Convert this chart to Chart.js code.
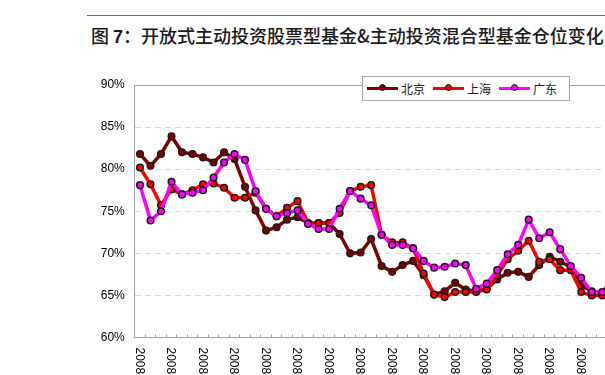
<!DOCTYPE html>
<html lang="zh-CN">
<head>
  <meta charset="UTF-8">
  <title>图7 仓位变化</title>
  <script src="https://cdn.jsdelivr.net/npm/chart.js"></script>
  <style>
    body { margin: 0; width: 605px; height: 375px; overflow: hidden; background: #fff; position: relative; }
    #topRule { position: absolute; left: 87px; top: 15px; width: 560px; height: 0; border-top: 1.5px solid #e5322d; }
    #title { position: absolute; left: 91px; top: 23px; white-space: nowrap; font: 500 18px "Noto Sans CJK SC", sans-serif; line-height: 24px; color: #1a1a1a; }
    #title b { font-family: "Liberation Sans", Arial, sans-serif; font-weight: bold; }
    #wrap { position: absolute; left: 0; top: 0; }
    #legend { position: absolute; left: 362px; top: 76px; width: 202px; height: 23px; border: 1px solid #a6a6a6; background: #fff;
              display: flex; align-items: center; padding-left: 4px; box-sizing: content-box; font: 12px "Noto Sans CJK SC", sans-serif; color: #222; }
    .item { display: flex; align-items: center; margin-right: 8px; }
    .swatch { position: relative; width: 31px; height: 3px; margin-right: 3px; }
    .swatch i { position: absolute; left: 12px; top: -3px; width: 5px; height: 5px; border-radius: 50%; border: 1.5px solid #1a1a1a; }
  </style>
</head>
<body>
  <div id="topRule"></div>
  <div id="title">图 <b>7</b>：开放式主动投资股票型基金&amp;主动投资混合型基金仓位变化</div>
  <div id="wrap"><canvas id="myChart" width="640" height="400"></canvas></div>
  <div id="legend"></div>

  <script>
    // 周度日期（图中只看得到年份）
    const categories = [
      '2008','2008','2008','2008','2008','2008','2008','2008','2008','2008',
      '2008','2008','2008','2008','2008','2008','2008','2008','2008','2008',
      '2008','2008','2008','2008','2008','2008','2008','2008','2008','2008',
      '2008','2008','2008','2008','2008','2008','2008','2008','2008','2008',
      '2008','2008','2008','2008','2008','2008'
    ];
    const beijing = [
      81.8, 80.4, 81.8, 83.9, 82.0, 81.8, 81.4, 80.8, 82.0, 81.2,
      77.9, 75.1, 72.7, 73.1, 74.0, 74.3, 73.6, 73.6, 73.6, 72.3,
      70.0, 70.1, 71.7, 68.5, 67.8, 68.6, 69.1, 67.4, 65.1, 65.5,
      66.5, 65.7, 65.5, 65.8, 66.9, 67.7, 67.8, 67.2, 68.6, 69.6,
      69.0, 68.4, 66.2, 65.5, 65.3, 67.0
    ];
    const shanghai = [
      80.2, 78.2, 75.7, 77.6, 77.0, 77.5, 78.2, 78.3, 77.8, 76.6,
      76.6, 77.2, 75.3, 74.4, 75.4, 76.2, 73.6, 73.6, 73.6, 74.8,
      77.4, 77.9, 78.1, 72.2, 71.3, 71.3, 70.6, 67.6, 65.1, 64.8,
      65.4, 65.4, 65.4, 65.7, 67.4, 69.3, 70.3, 71.5, 69.0, 69.3,
      68.0, 68.0, 65.4, 65.0, 65.0, 66.5
    ];
    const guangdong = [
      78.1, 73.9, 75.0, 78.5, 77.0, 77.2, 77.5, 79.0, 80.8, 81.8,
      81.1, 77.4, 75.3, 74.4, 74.8, 75.1, 73.5, 72.9, 72.9, 75.3,
      77.4, 76.5, 75.7, 72.2, 71.0, 71.0, 70.6, 69.1, 68.3, 68.4,
      68.8, 68.6, 65.8, 66.4, 68.0, 69.9, 71.0, 74.0, 71.8, 72.5,
      70.5, 68.5, 67.1, 65.4, 65.4, 66.0
    ];
    const yTicks = { min: 60, max: 90, step: 5 };

    const series = [
      { label: '北京', data: beijing, color: '#800000', order: 3 },
      { label: '上海', data: shanghai, color: '#ff0000', order: 2 },
      { label: '广东', data: guangdong, color: '#ff00ff', order: 1 }
    ];

    // 顶部边框和竖排的x轴标签
    const extras = {
      id: 'extras',
      beforeDatasetsDraw(chart) {
        const a = chart.chartArea, ctx = chart.ctx;
        ctx.save();
        ctx.strokeStyle = '#a0a0a0';
        ctx.lineWidth = 1;
        ctx.beginPath();
        ctx.moveTo(a.left, Math.round(a.top) + 0.5);
        ctx.lineTo(a.right, Math.round(a.top) + 0.5);
        ctx.stroke();
        ctx.restore();
      },
      afterDraw(chart) {
        const xs = chart.scales.x, ctx = chart.ctx;
        ctx.save();
        ctx.font = '12px "Liberation Sans", Arial, sans-serif';
        ctx.fillStyle = '#000';
        ctx.textAlign = 'left';
        ctx.textBaseline = 'middle';
        categories.forEach((c, i) => {
          if (i % 3 !== 0) return;
          ctx.save();
          ctx.translate(xs.getPixelForValue(i) - 1, chart.chartArea.bottom + 10);
          ctx.rotate(Math.PI / 2);
          ctx.fillText(c, 0, 0);
          ctx.restore();
        });
        ctx.restore();
      }
    };

    const ctx = document.getElementById('myChart').getContext('2d');
    const myChart = new Chart(ctx, {
      type: 'line',
      data: {
        labels: categories,
        datasets: series.map(s => ({
          label: s.label,
          data: s.data,
          order: s.order,
          borderColor: s.color,
          borderWidth: 3.5,
          pointRadius: 3.3,
          pointBorderWidth: 1.5,
          pointBorderColor: '#1a1a1a',
          pointBackgroundColor: s.color,
          tension: 0,
          fill: false
        }))
      },
      options: {
        responsive: false,
        animation: false,
        layout: { padding: { left: 0, top: 85, right: 22, bottom: 0 } },
        plugins: { legend: { display: false }, tooltip: { enabled: false } },
        scales: {
          x: {
            offset: true,
            grid: { display: true, offset: true, drawOnChartArea: false, drawTicks: true, tickLength: -3, tickColor: '#a0a0a0' },
            border: { display: true, color: '#a0a0a0' },
            ticks: { display: false },
            afterFit(scale) { scale.height = 62.5; }
          },
          y: {
            min: yTicks.min,
            max: yTicks.max,
            ticks: {
              stepSize: yTicks.step,
              padding: 10,
              color: '#000',
              font: { family: '"Liberation Sans", Arial, sans-serif', size: 12 },
              callback: v => v + '%'
            },
            grid: { color: '#d9d9d9', drawTicks: false },
            border: { display: true, color: '#a0a0a0', dash: [6, 4] },
            afterFit(scale) { scale.width = 134.75; }
          }
        }
      },
      plugins: [extras]
    });

    // 图例
    const legend = document.getElementById('legend');
    series.forEach(s => {
      const item = document.createElement('div');
      item.className = 'item';
      item.innerHTML = '<span class="swatch" style="background:' + s.color + '"><i style="background:' + s.color + '"></i></span>' + s.label;
      legend.appendChild(item);
    });
  </script>
</body>
</html>
